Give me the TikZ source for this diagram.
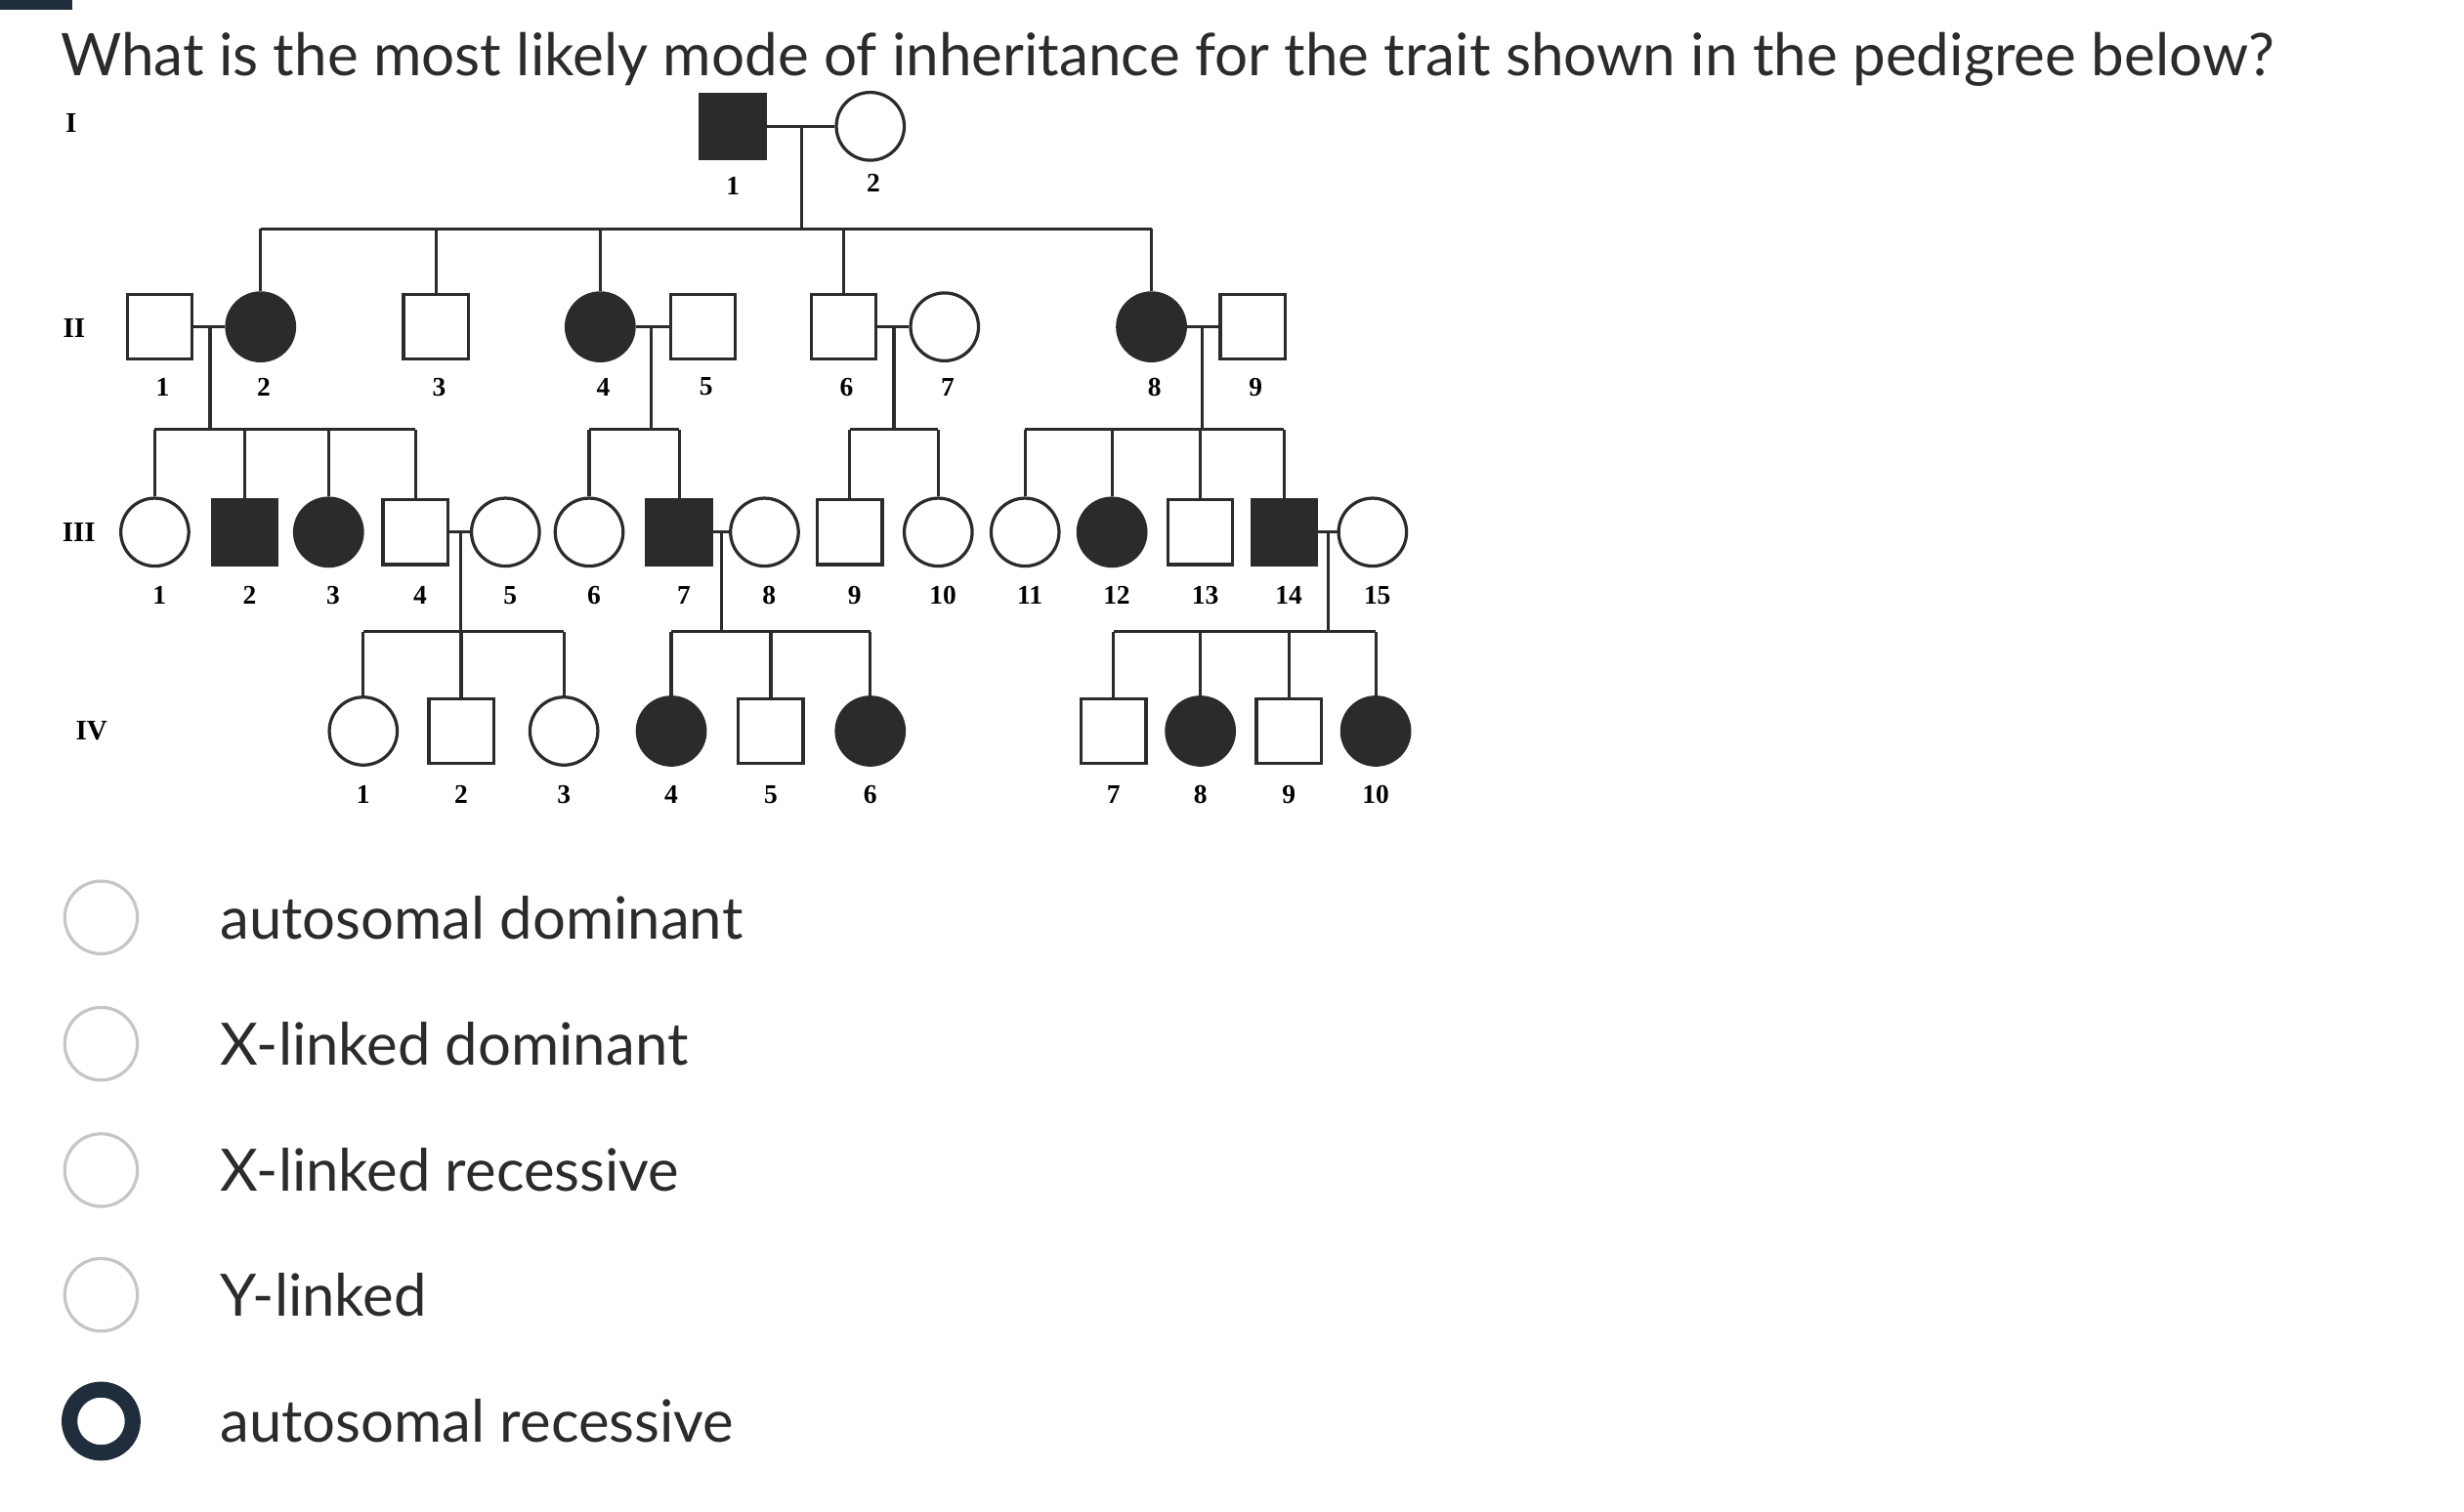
\documentclass[tikz,border=0pt]{standalone}
\usepackage{fontspec}
\setmainfont{Lato}
\newfontfamily\pedfont{Liberation Serif}
\usetikzlibrary{calc}
\definecolor{ink}{HTML}{2B2B2B}
\definecolor{navy}{HTML}{1F2D3D}
\begin{document}
\begin{tikzpicture}[x=0.5pt,y=-0.5pt,
  m/.style={draw=ink,line width=1pt,minimum size=20.5pt,inner sep=0pt,fill=white},
  f/.style={draw=ink,line width=1pt,circle,minimum size=21.5pt,inner sep=0pt,fill=white},
  aff/.style={fill=ink},
  lnk/.style={draw=ink,line width=1pt},
  num/.style={font=\pedfont\bfseries\fontsize{8.5}{9}\selectfont,inner sep=0pt},
  gen/.style={font=\pedfont\bfseries\fontsize{9}{10}\selectfont,inner sep=0pt},
  opt/.style={circle,draw=gray!45,line width=1pt,minimum size=23pt,inner sep=0pt},
  otxt/.style={anchor=west,font=\fontsize{18.5}{20}\selectfont,text=ink,inner sep=0pt}]
\useasboundingbox (0,0) rectangle (1560,957);
\fill[navy] (0,0) rectangle (46,6);
\node[anchor=base west,font=\fontsize{18.6}{20}\selectfont,text=ink,inner sep=0pt] (title) at (38,48) {What is the most likely mode of inheritance for the trait shown in the pedigree below?};
% generation labels
\node[gen] (gI) at (45,78) {I};
\node[gen] (gII) at (47,208) {II};
\node[gen] (gIII) at (50,337) {III};
\node[gen] (gIV) at (58,463) {IV};
% Gen I
\node[m,aff] (I1) at (464,80) {};
\node[f] (I2) at (551,80) {};
% Gen II
\def\yII{207}
\node[m] (II1) at (101,\yII) {};
\node[f,aff] (II2) at (165,\yII) {};
\node[m] (II3) at (276,\yII) {};
\node[f,aff] (II4) at (380,\yII) {};
\node[m] (II5) at (445,\yII) {};
\node[m] (II6) at (534,\yII) {};
\node[f] (II7) at (598,\yII) {};
\node[f,aff] (II8) at (729,\yII) {};
\node[m] (II9) at (793,\yII) {};
% Gen III
\def\yIII{337}
\node[f] (III1) at (98,\yIII) {};
\node[m,aff] (III2) at (155,\yIII) {};
\node[f,aff] (III3) at (208,\yIII) {};
\node[m] (III4) at (263,\yIII) {};
\node[f] (III5) at (320,\yIII) {};
\node[f] (III6) at (373,\yIII) {};
\node[m,aff] (III7) at (430,\yIII) {};
\node[f] (III8) at (484,\yIII) {};
\node[m] (III9) at (538,\yIII) {};
\node[f] (III10) at (594,\yIII) {};
\node[f] (III11) at (649,\yIII) {};
\node[f,aff] (III12) at (704,\yIII) {};
\node[m] (III13) at (760,\yIII) {};
\node[m,aff] (III14) at (813,\yIII) {};
\node[f] (III15) at (869,\yIII) {};
% Gen IV
\def\yIV{463}
\node[f] (IV1) at (230,\yIV) {};
\node[m] (IV2) at (292,\yIV) {};
\node[f] (IV3) at (357,\yIV) {};
\node[f,aff] (IV4) at (425,\yIV) {};
\node[m] (IV5) at (488,\yIV) {};
\node[f,aff] (IV6) at (551,\yIV) {};
\node[m] (IV7) at (705,\yIV) {};
\node[f,aff] (IV8) at (760,\yIV) {};
\node[m] (IV9) at (816,\yIV) {};
\node[f,aff] (IV10) at (871,\yIV) {};
% marriages
\foreach \a/\b/\c in {I1/I2/mI,II1/II2/mA,II4/II5/mB,II6/II7/mC,II8/II9/mD,III4/III5/mE,III7/III8/mF,III14/III15/mG}{
  \draw[lnk] (\a) -- (\b);
  \coordinate (\c) at ($(\a)!0.5!(\b)$);
}
% sibships
\coordinate (sI) at ($(mI)+(0,65)$);
\draw[lnk] (mI) -- (sI);
\draw[lnk] (II2 |- sI) -- (II8 |- sI);
\foreach \c in {II2,II3,II4,II6,II8} \draw[lnk] (\c) -- (\c |- sI);
\foreach \p/\s/\first/\last/\kids in {mA/sA/III1/III4/{III1,III2,III3,III4},mB/sB/III6/III7/{III6,III7},mC/sC/III9/III10/{III9,III10},mD/sD/III11/III14/{III11,III12,III13,III14}}{
  \coordinate (\s) at ($(\p)+(0,65)$);
  \draw[lnk] (\p) -- (\s);
  \draw[lnk] (\first |- \s) -- (\last |- \s);
  \foreach \c in \kids \draw[lnk] (\c) -- (\c |- \s);
}
\foreach \p/\s/\first/\last/\kids in {mE/sE/IV1/IV3/{IV1,IV2,IV3},mF/sF/IV4/IV6/{IV4,IV5,IV6},mG/sG/IV7/IV10/{IV7,IV8,IV9,IV10}}{
  \coordinate (\s) at ($(\p)+(0,63)$);
  \draw[lnk] (\p) -- (\s);
  \draw[lnk] (\first |- \s) -- (\last |- \s);
  \foreach \c in \kids \draw[lnk] (\c) -- (\c |- \s);
}
% numbers
\node[num] (nI1) at (464,118) {1};
\node[num] (nI2) at (553,116) {2};
\foreach \i in {1,...,9} \node[num] (nII\i) at ($(II\i)+(2,38)$) {\i};
\foreach \i in {1,...,15} \node[num] (nIII\i) at ($(III\i)+(3,40)$) {\i};
\foreach \i in {1,...,10} \node[num] (nIV\i) at ($(IV\i)+(0,40)$) {\i};
% options
\node[opt] (o1) at (64,581) {};
\node[opt] (o2) at (64,661) {};
\node[opt] (o3) at (64,741) {};
\node[opt] (o4) at (64,820) {};
\node[circle,draw=navy,line width=5pt,minimum size=20pt,inner sep=0pt,fill=white] (o5) at (64,900) {};
\node[otxt] (t1) at (139,581) {autosomal dominant};
\node[otxt] (t2) at (139,661) {X-linked dominant};
\node[otxt] (t3) at (139,741) {X-linked recessive};
\node[otxt] (t4) at (139,820) {Y-linked};
\node[otxt] (t5) at (139,900) {autosomal recessive};
\end{tikzpicture}
\end{document}
